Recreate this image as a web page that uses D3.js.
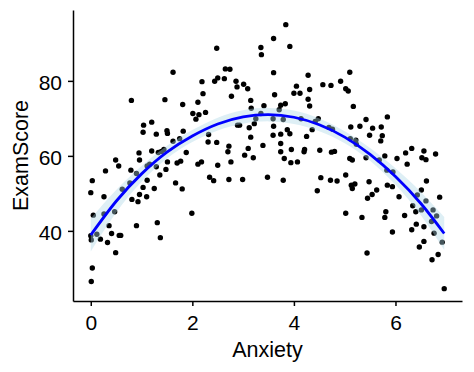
<!DOCTYPE html>
<html>
<head>
<meta charset="utf-8">
<script src="https://cdn.jsdelivr.net/npm/d3@7"></script>
<style>
  body { margin: 0; background: #fff; }
  text { font-family: "Liberation Sans", Arial, sans-serif; fill: #000; }
</style>
</head>
<body>
<div id="chart"></div>
<script>
const anxiety = [
  1.62, 0.80, 1.46, 1.81, 2.11, 2.01, 2.07, 2.13, 1.20, 1.04,
  1.03, 1.29, 1.50, 1.51, 1.82, 1.75, 1.62, 1.44, 1.39, 1.33,
  1.20, 0.95, 0.96, 1.88, 1.51, 1.70, 1.77, 2.11, 0.49, 0.55,
  0.29, 0.03, 0.00, 0.79, 0.90, 1.16, 1.11, 1.29, 1.36, 1.48,
  1.11, 1.03, 1.25, 0.77, 0.62, 0.81, 0.93, 0.96, 1.10, 1.67,
  1.80, 1.99, 0.26, 0.05, 0.26, 0.47, 0.36, 0.90, 1.31, 1.37,
  0.41, 0.56, 0.59, 0.12, 0.00, 0.01, 0.19, 0.33, 0.49, 0.03,
  0.01,
  3.84, 3.60, 3.92, 2.48, 3.35, 3.36, 2.65, 2.74, 3.60, 4.28,
  2.50, 2.44, 2.19, 2.63, 2.86, 3.01, 2.88, 3.09, 4.05, 4.31,
  4.57, 2.21, 2.77, 3.62, 4.00, 4.12, 4.28, 3.15, 4.31, 3.16,
  3.41, 3.74, 3.83, 3.71, 2.26, 3.35, 3.25, 3.22, 3.59, 3.79,
  4.14, 4.42, 4.48, 4.36, 2.89, 2.93, 3.12, 3.60, 3.87, 3.92,
  3.74, 3.59, 4.25, 2.32, 2.31, 2.48, 3.15, 3.39, 3.74, 2.72,
  2.70, 3.10, 3.03, 3.20, 3.95, 3.74, 4.21, 4.20, 4.51, 3.81,
  3.94, 4.07, 2.76, 2.18, 2.50, 2.34, 2.42, 2.72, 2.99, 3.48,
  3.79, 4.53, 4.46,
  5.10, 4.92, 4.73, 5.02, 5.07, 5.17, 5.84, 5.42, 5.12, 5.30,
  5.55, 5.72, 4.69, 4.76, 5.49, 5.74, 5.71, 5.11, 5.22, 5.23,
  4.74, 4.80, 5.10, 5.15, 5.42, 5.68, 5.79, 6.03, 6.20, 6.32,
  6.23, 6.56, 6.79, 6.52, 6.60, 5.83, 5.95, 4.72, 4.85, 5.02,
  5.48, 5.13, 5.20, 5.15, 5.84, 5.94, 5.63, 5.54, 5.45, 6.07,
  6.43, 6.51, 6.61, 6.60, 6.87, 6.34, 6.40, 6.51, 6.74, 6.81,
  6.71, 5.81, 5.79, 6.18, 5.02, 5.34, 6.41, 6.56, 6.32, 6.76,
  5.94, 6.56, 6.92, 6.47, 6.84, 6.72, 5.44, 6.96
]

const examScore = [
  82.3, 74.8, 75.0, 73.7, 74.3, 71.3, 69.8, 71.0, 69.0, 68.2,
  66.3, 65.8, 66.7, 66.0, 66.6, 64.6, 63.9, 61.7, 61.2, 60.9,
  61.3, 60.8, 58.9, 60.9, 58.4, 58.1, 58.6, 57.8, 58.9, 57.3,
  56.0, 53.4, 50.2, 56.2, 55.3, 57.8, 57.3, 57.1, 54.9, 56.4,
  53.5, 51.6, 51.3, 52.8, 51.1, 48.4, 47.8, 49.7, 49.1, 52.8,
  51.2, 44.7, 49.1, 44.2, 44.5, 45.1, 41.4, 41.4, 42.2, 38.2,
  39.3, 38.8, 38.8, 39.1, 38.7, 37.6, 37.8, 36.9, 34.2, 30.1,
  26.5,
  95.0, 91.3, 89.2, 88.7, 88.9, 87.0, 83.2, 83.1, 82.2, 81.5,
  80.8, 79.9, 79.8, 80.6, 79.9, 79.1, 78.4, 77.9, 78.6, 77.7,
  79.0, 76.6, 75.9, 76.3, 76.7, 76.7, 75.1, 74.8, 73.3, 72.7,
  73.4, 73.5, 73.9, 72.3, 71.6, 71.3, 69.9, 68.6, 69.9, 69.7,
  69.9, 69.2, 69.9, 67.0, 68.2, 68.2, 67.5, 67.9, 67.0, 65.9,
  65.8, 65.5, 65.2, 65.7, 63.7, 63.6, 65.0, 62.8, 63.3, 62.6,
  61.1, 62.0, 60.2, 59.5, 61.7, 61.1, 61.7, 61.1, 61.5, 59.3,
  58.2, 58.4, 58.4, 58.4, 57.5, 54.3, 53.4, 53.7, 53.7, 54.3,
  53.5, 54.2, 50.7,
  82.3, 79.9, 78.8, 77.9, 77.3, 73.2, 70.4, 69.7, 67.7, 67.9,
  67.4, 67.7, 67.6, 67.1, 65.5, 65.4, 64.0, 64.6, 64.2, 63.1,
  61.0, 61.2, 59.3, 58.9, 59.5, 58.9, 60.0, 59.3, 60.8, 62.0,
  57.8, 61.3, 60.5, 59.5, 59.0, 56.2, 55.7, 53.5, 53.3, 54.9,
  53.1, 52.2, 52.5, 51.3, 52.2, 51.8, 50.9, 49.7, 48.7, 49.1,
  49.6, 50.9, 53.3, 48.0, 49.0, 46.7, 45.1, 45.6, 45.6, 44.0,
  42.5, 45.1, 43.6, 44.1, 44.7, 43.6, 41.8, 41.1, 40.3, 39.4,
  39.7, 37.2, 37.0, 35.7, 33.7, 32.3, 34.1, 24.6
]

// fitted quadratic trend and its 95% band
const fitAnxiety = [0, 0.5, 1, 1.5, 2, 2.5, 3, 3.5, 4, 4.5, 5, 5.5, 6, 6.5, 6.96]
const fitScore = [38.9, 47.9, 55.2, 61.0, 65.3, 68.5, 70.4, 71.0, 70.3, 68.3, 65.0, 60.4, 54.5, 47.3, 39.3]
const fitHalfBand = [4.4, 3.0, 2.1, 1.7, 1.6, 1.7, 1.8, 1.8, 1.8, 1.7, 1.6, 1.7, 2.2, 3.1, 4.4]

const xTicks = [0, 2, 4, 6]
const yTicks = [40, 60, 80]

const width = 474
const height = 372
const panel = { left: 73, right: 462, top: 10, bottom: 301 }

const svg = d3.select("#chart")
    .append("svg")
    .attr("width", width)
    .attr("height", height)

svg.append("rect")
    .attr("width", width)
    .attr("height", height)
    .attr("fill", "#fff")

const xScale = d3.scaleLinear()
    .domain([-0.35, 7.31])
    .range([panel.left, panel.right])

const yScale = d3.scaleLinear()
    .domain([21.3, 98.9])
    .range([panel.bottom, panel.top])

const points = anxiety.map((x, i) => ({ x: x, y: examScore[i] }))
const trend = fitAnxiety.map((x, i) => ({ x: x, y: fitScore[i], band: fitHalfBand[i] }))

svg.append("g")
    .selectAll("circle")
    .data(points)
    .enter().append("circle")
    .attr("cx", d => xScale(d.x))
    .attr("cy", d => yScale(d.y))
    .attr("r", 2.7)
    .attr("fill", "#000")

svg.append("path")
    .datum(trend)
    .attr("fill", "#add8e6")
    .attr("fill-opacity", 0.4)
    .attr("d", d3.area()
        .curve(d3.curveNatural)
        .x(d => xScale(d.x))
        .y0(d => yScale(d.y - d.band))
        .y1(d => yScale(d.y + d.band)))

svg.append("path")
    .datum(trend)
    .attr("fill", "none")
    .attr("stroke", "#0000ff")
    .attr("stroke-width", 2.8)
    .attr("d", d3.line()
        .curve(d3.curveNatural)
        .x(d => xScale(d.x))
        .y(d => yScale(d.y)))

svg.append("g")
    .attr("transform", "translate(0," + panel.bottom + ")")
    .call(d3.axisBottom(xScale).tickValues(xTicks).tickSize(5).tickSizeOuter(0).tickPadding(9))

const yAxis = svg.append("g")
    .attr("transform", "translate(" + panel.left + ",0)")
    .call(d3.axisLeft(yScale).tickValues(yTicks).tickSize(5).tickSizeOuter(0).tickPadding(6))

svg.selectAll(".domain, .tick line")
    .attr("stroke", "#000")
    .attr("stroke-width", 1.5)

svg.selectAll(".tick text")
    .attr("font-size", 21)
    .attr("font-family", "Liberation Sans, Arial, sans-serif")
    .attr("fill", "#000")

yAxis.selectAll(".tick text").attr("dy", "0.42em")

svg.append("text")
    .attr("x", (panel.left + panel.right) / 2)
    .attr("y", 357)
    .attr("text-anchor", "middle")
    .attr("font-size", 21.5)
    .text("Anxiety")

svg.append("text")
    .attr("transform", "translate(28," + (panel.top + panel.bottom) / 2 + ") rotate(-90)")
    .attr("text-anchor", "middle")
    .attr("font-size", 21.5)
    .text("ExamScore")
</script>
</body>
</html>
